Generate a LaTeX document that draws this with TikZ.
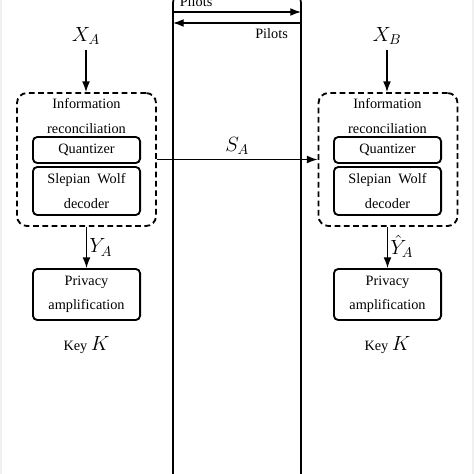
\documentclass[tikz,border=0pt]{standalone}
\usepackage{amsmath}
\usepackage{fontspec}
\setmainfont{Liberation Serif}
\usetikzlibrary{arrows.meta,positioning,calc}

\begin{document}
\begin{tikzpicture}[
  x=0.7pt, y=-0.7pt,
  block/.style={rectangle, rounded corners=3pt, draw=black, line width=1.3pt,
                minimum width=75pt, align=center, font=\normalsize,
                execute at begin node={\baselineskip=17pt}},
  irbox/.style={rectangle, rounded corners=7pt, draw=black, line width=1.3pt,
                dash pattern=on 4pt off 2.5pt, minimum width=97.3pt, minimum height=93.1pt},
  arrow/.style={-{Latex[length=7.5pt,width=5.5pt]}, line width=0.9pt},
  chan/.style={line width=1.2pt, rounded corners=6pt},
  sym/.style={font=\Large},
  txt/.style={font=\normalsize, align=center, execute at begin node={\baselineskip=17pt}}
]

\useasboundingbox (0,0) rectangle (474,474);
\clip (0,0) rectangle (474,474);
\fill[gray!12] (0,0) rectangle (2,474);
\fill[gray!12] (472,0) rectangle (474,474);

% Channel between the two terminals
\draw[chan] (173,490) -- (173,-6) -- (301,-6) -- (301,490);
\coordinate (chL1) at (173,12);
\coordinate (chR1) at (301,12);
\coordinate (chL2) at (173,23);
\coordinate (chR2) at (301,23);
\draw[arrow] (chL1) -- node[pos=0.18, above] {Pilots} (chR1);
\draw[arrow] (chR2) -- node[pos=0.23, below] {Pilots} (chL2);

% Terminal A
\node[sym] (XA) at (86,36) {$X_A$};
\node[irbox] (irA) at (86.5,159.5) {};
\node[txt] (infoA) at (86.5,116) {Information\\reconciliation};
\node[block, minimum height=18.2pt] (quantA) at (86.5,150) {Quantizer};
\node[block, minimum height=33.6pt] (swA) at (86.5,191) {Slepian~ Wolf\\decoder};
\node[block, minimum height=35.7pt] (privA) at (86.5,294.5) {Privacy\\amplification};
\node[txt, below=0.6cm of privA.south, anchor=center] (keyA) {Key {\Large$K$}};

% Terminal B
\node[sym] (XB) at (387,36) {$X_B$};
\node[irbox] (irB) at (388,159.5) {};
\node[txt] (infoB) at (387.5,116) {Information\\reconciliation};
\node[block, minimum height=18.2pt] (quantB) at (387.5,150) {Quantizer};
\node[block, minimum height=33.6pt] (swB) at (387.5,191) {Slepian~ Wolf\\decoder};
\node[block, minimum height=35.7pt] (privB) at (387.5,294.5) {Privacy\\amplification};
\node[txt, below=0.6cm of privB.south, anchor=center] (keyB) {Key {\Large$K$}};

\draw[arrow] (XA) -- (irA.north -| XA);
\draw[arrow] (XB) -- (irB.north -| XB);
\draw[arrow] (irA.east) -- node[above, sym] {$S_A$} (irB.west);
\draw[arrow] (irA.south) -- node[right, sym, inner sep=1.5pt] {$Y_A$} (privA.north);
\draw[arrow] (irB.south -| privB.north) -- node[right, sym, inner sep=1.5pt, yshift=1pt] {$\hat{Y}_A$} (privB.north);

\end{tikzpicture}
\end{document}
